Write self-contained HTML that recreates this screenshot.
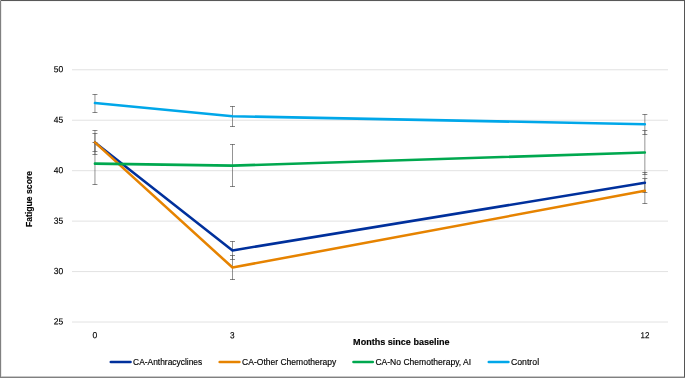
<!DOCTYPE html>
<html lang="en"><head><meta charset="utf-8"><title>Fatigue score chart</title>
<style>
html,body{margin:0;padding:0;background:#fff;}
body{width:685px;height:378px;overflow:hidden;position:relative;font-family:"Liberation Sans",sans-serif;}
svg{position:absolute;left:0;top:0;display:block;}
text{font-family:"Liberation Sans",sans-serif;fill:#000;stroke:#000;stroke-width:0.15px;}
.b{font-weight:bold;}
</style></head><body>
<svg width="685" height="378" viewBox="0 0 685 378">
<rect x="0" y="0" width="685" height="378" fill="#fff"/>

<g stroke="#e2e2e2" stroke-width="1" fill="none">
<line x1="72" x2="668" y1="69.78" y2="69.78"/>
<line x1="72" x2="668" y1="120.23" y2="120.23"/>
<line x1="72" x2="668" y1="170.68" y2="170.68"/>
<line x1="72" x2="668" y1="221.13" y2="221.13"/>
<line x1="72" x2="668" y1="271.58" y2="271.58"/>
<line x1="72" x2="668" y1="322.03" y2="322.03"/>
</g>
<g font-size="8.8" stroke-width="0.06">
<text x="53.85" y="72.33" transform="rotate(0.05 58 69.8)" textLength="9.45" lengthAdjust="spacingAndGlyphs">50</text>
<text x="53.85" y="122.78" transform="rotate(0.05 58 120.2)" textLength="9.45" lengthAdjust="spacingAndGlyphs">45</text>
<text x="53.85" y="173.23" transform="rotate(0.05 58 170.7)" textLength="9.45" lengthAdjust="spacingAndGlyphs">40</text>
<text x="53.85" y="223.68" transform="rotate(0.05 58 221.1)" textLength="9.45" lengthAdjust="spacingAndGlyphs">35</text>
<text x="53.85" y="274.13" transform="rotate(0.05 58 271.6)" textLength="9.45" lengthAdjust="spacingAndGlyphs">30</text>
<text x="53.85" y="324.58" transform="rotate(0.05 58 322.0)" textLength="9.45" lengthAdjust="spacingAndGlyphs">25</text>
</g>
<g font-size="8.8" stroke-width="0.06">
<text x="92.5" y="338.25" transform="rotate(0.05 94.5 335)" textLength="4.75" lengthAdjust="spacingAndGlyphs">0</text>
<text x="230.0" y="338.25" transform="rotate(0.05 232.0 335)" textLength="4.6" lengthAdjust="spacingAndGlyphs">3</text>
<text x="640.6" y="338.25" transform="rotate(0.05 642.6 335)" textLength="8.9" lengthAdjust="spacingAndGlyphs">12</text>
</g>
<path d="M94.95 133.0V152.0M232.50 241.0V260.0M644.85 172.0V193.0M94.95 130.0V155.0M232.50 255.0V280.0M644.85 178.0V204.0M94.95 142.0V185.0M232.50 144.0V187.0M644.85 130.0V175.0M94.95 94.0V113.0M232.50 106.0V127.0M644.85 114.0V135.0" stroke="#555" stroke-opacity="0.63" stroke-width="1" fill="none"/>
<path d="M92.45 133.5h5M92.45 151.5h5M230.00 241.5h5M230.00 259.5h5M642.35 172.5h5M642.35 192.5h5M92.45 130.5h5M92.45 154.5h5M230.00 255.5h5M230.00 279.5h5M642.35 178.5h5M642.35 203.5h5M92.45 142.5h5M92.45 184.5h5M230.00 144.5h5M230.00 186.5h5M642.35 130.5h5M642.35 174.5h5M92.45 94.5h5M92.45 112.5h5M230.00 106.5h5M230.00 126.5h5M642.35 114.5h5M642.35 134.5h5" stroke="#555" stroke-opacity="0.7" stroke-width="1" fill="none"/>
<polyline points="94.95,142.43 232.50,250.39 644.85,182.79" fill="none" stroke="#00309C" stroke-width="2.55" stroke-linecap="round" stroke-linejoin="round"/>
<polyline points="94.95,142.43 232.50,267.54 644.85,190.86" fill="none" stroke="#E68300" stroke-width="2.55" stroke-linecap="round" stroke-linejoin="round"/>
<polyline points="94.95,163.62 232.50,165.63 644.85,152.52" fill="none" stroke="#00A84F" stroke-width="2.55" stroke-linecap="round" stroke-linejoin="round"/>
<polyline points="94.95,103.08 232.50,116.19 644.85,124.27" fill="none" stroke="#00A7E9" stroke-width="2.55" stroke-linecap="round" stroke-linejoin="round"/>
<text class="b" font-size="9" x="353.1" y="345.1" textLength="96.5" lengthAdjust="spacingAndGlyphs">Months since baseline</text>
<text class="b" font-size="9" transform="translate(32.2 227) rotate(-90)" textLength="56.1" lengthAdjust="spacingAndGlyphs">Fatigue score</text>
<line x1="110.8" x2="130.5" y1="362.05" y2="362.05" stroke="#00309C" stroke-width="2.6" stroke-linecap="round"/>
<text font-size="8.9" x="133.1" y="364.9" textLength="69.1" lengthAdjust="spacingAndGlyphs">CA-Anthracyclines</text>
<line x1="219.7" x2="239.4" y1="362.05" y2="362.05" stroke="#E68300" stroke-width="2.6" stroke-linecap="round"/>
<text font-size="8.9" x="242.1" y="364.9" textLength="94.2" lengthAdjust="spacingAndGlyphs">CA-Other Chemotherapy</text>
<line x1="353.5" x2="372.8" y1="362.05" y2="362.05" stroke="#00A84F" stroke-width="2.6" stroke-linecap="round"/>
<text font-size="8.9" x="375.4" y="364.9" textLength="95.8" lengthAdjust="spacingAndGlyphs">CA-No Chemotherapy, AI</text>
<line x1="488.8" x2="508.4" y1="362.05" y2="362.05" stroke="#00A7E9" stroke-width="2.6" stroke-linecap="round"/>
<text font-size="8.9" x="510.9" y="364.9" textLength="28.2" lengthAdjust="spacingAndGlyphs">Control</text>
<rect x="0" y="0" width="685" height="1" fill="#585858"/>
<rect x="1" y="1" width="683" height="1" fill="#f6f6f6"/>
<rect x="684" y="0" width="1" height="377" fill="#555"/>
<rect x="0" y="1" width="1" height="377" fill="#808080"/>
<rect x="1" y="1" width="1" height="376" fill="#ececec"/>
<rect x="0" y="377" width="685" height="1" fill="#808080"/>
<rect x="1" y="376" width="683" height="1" fill="#c8c8c8"/>
<rect x="0" y="0" width="1" height="1" fill="#aaa"/>
</svg></body></html>
